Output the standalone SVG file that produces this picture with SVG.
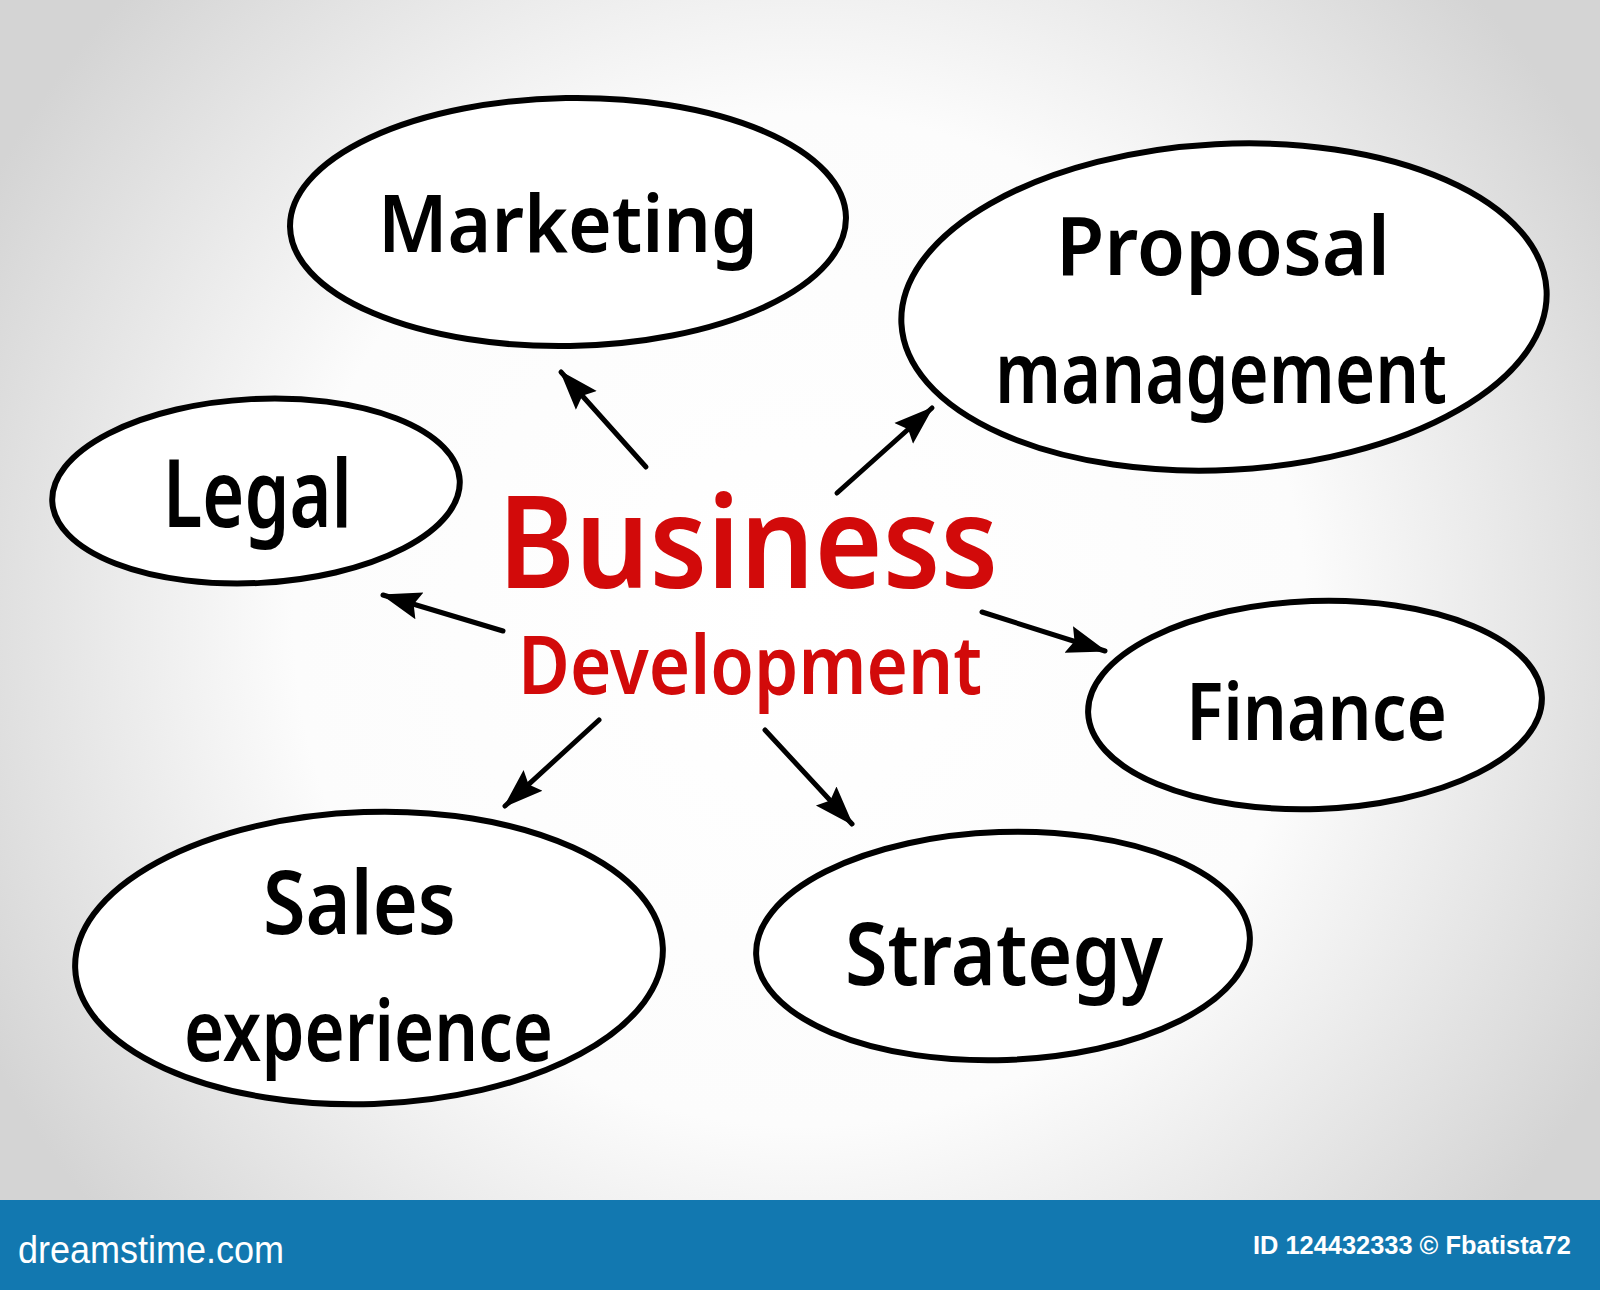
<svg xmlns="http://www.w3.org/2000/svg" width="1600" height="1290" viewBox="0 0 1600 1290">
<defs>
<radialGradient id="bg" cx="800" cy="620" r="920" gradientUnits="userSpaceOnUse">
<stop offset="0" stop-color="#ffffff"/>
<stop offset="0.55" stop-color="#fcfcfc"/>
<stop offset="1" stop-color="#d4d4d4"/>
</radialGradient>
<marker id="ah" viewBox="0 0 40 32" refX="38" refY="16" markerWidth="40" markerHeight="32" markerUnits="userSpaceOnUse" orient="auto">
<path d="M0,2 L40,16 L0,30 L6,16 Z" fill="#000"/>
</marker>
<style>
.bubble{fill:#fff;stroke:#000;stroke-width:6}
.lbl{font-family:"Noto Sans","Open Sans","DejaVu Sans",sans-serif;font-weight:600;fill:#000}
.ctr{font-family:"Noto Sans","Open Sans","DejaVu Sans",sans-serif;font-weight:600;fill:#d20a0a}
.conn{stroke:#000;stroke-width:5;fill:none;stroke-linecap:round;marker-end:url(#ah)}
.foot{font-family:"Liberation Sans","DejaVu Sans",sans-serif;fill:#fff}
</style>
</defs>
<rect x="0" y="0" width="1600" height="1200" fill="url(#bg)"/>
<rect x="0" y="1200" width="1600" height="90" fill="#1278b0"/>

<g id="connectors">
<line class="conn" x1="646" y1="467" x2="561" y2="372"/>
<line class="conn" x1="837" y1="493" x2="932" y2="408"/>
<line class="conn" x1="503" y1="631" x2="383" y2="595"/>
<line class="conn" x1="982" y1="612" x2="1105" y2="651"/>
<line class="conn" x1="599" y1="720" x2="505" y2="806"/>
<line class="conn" x1="765" y1="730" x2="852" y2="824"/>
</g>

<g id="marketing">
<ellipse class="bubble" cx="568" cy="222" rx="278" ry="124" transform="rotate(-1 568 222)"/>
<text class="lbl" x="378" y="252" font-size="80" textLength="380" lengthAdjust="spacingAndGlyphs">Marketing</text>
</g>
<g id="proposal">
<ellipse class="bubble" cx="1224" cy="307" rx="323" ry="163" transform="rotate(-3 1224 307)"/>
<text class="lbl" x="1056" y="275" font-size="82" textLength="334" lengthAdjust="spacingAndGlyphs">Proposal</text>
<text class="lbl" x="995" y="403" font-size="84" textLength="452" lengthAdjust="spacingAndGlyphs">management</text>
</g>
<g id="legal">
<ellipse class="bubble" cx="256" cy="491" rx="204" ry="92" transform="rotate(-3 256 491)"/>
<text class="lbl" x="163" y="527" font-size="94" textLength="189" lengthAdjust="spacingAndGlyphs">Legal</text>
</g>
<g id="center">
<text class="ctr" x="498" y="588" font-size="128" textLength="500" lengthAdjust="spacingAndGlyphs">Business</text>
<text class="ctr" x="518" y="694" font-size="82" textLength="464" lengthAdjust="spacingAndGlyphs">Development</text>
</g>
<g id="finance">
<ellipse class="bubble" cx="1315" cy="705" rx="227" ry="104" transform="rotate(-2 1315 705)"/>
<text class="lbl" x="1186" y="740" font-size="80" textLength="261" lengthAdjust="spacingAndGlyphs">Finance</text>
</g>
<g id="sales">
<ellipse class="bubble" cx="369" cy="958" rx="294" ry="146" transform="rotate(-2 369 958)"/>
<text class="lbl" x="263" y="934" font-size="88" textLength="193" lengthAdjust="spacingAndGlyphs">Sales</text>
<text class="lbl" x="184" y="1061" font-size="84" textLength="369" lengthAdjust="spacingAndGlyphs">experience</text>
</g>
<g id="strategy">
<ellipse class="bubble" cx="1003" cy="946" rx="247" ry="114" transform="rotate(-2 1003 946)"/>
<text class="lbl" x="845" y="985" font-size="86" textLength="318" lengthAdjust="spacingAndGlyphs">Strategy</text>
</g>

<g id="footer">
<text class="foot" x="18" y="1263" font-size="38" textLength="266" lengthAdjust="spacingAndGlyphs">dreamstime.com</text>
<text class="foot" x="1253" y="1254" font-size="25" font-weight="bold" textLength="318" lengthAdjust="spacingAndGlyphs">ID 124432333 © Fbatista72</text>
</g>
</svg>
